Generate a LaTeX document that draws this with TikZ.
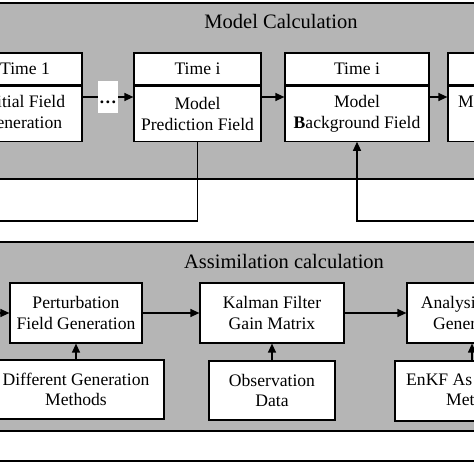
\documentclass[tikz,border=0pt]{standalone}
\usepackage{fontspec}
\setmainfont{Liberation Serif}
\usetikzlibrary{arrows.meta,positioning}
\definecolor{panelgray}{RGB}{181,181,181}

\begin{document}
\begin{tikzpicture}[x=1pt, y=1pt,
  every node/.style={font=\fontsize{17.6}{20.7}\selectfont},
  box/.style={draw, fill=white, line width=1.2pt, align=center, inner sep=0pt},
  frag/.style={inner sep=0pt},
  title/.style={font=\fontsize{20.5}{24}\selectfont},
  arr/.style={-{Triangle[length=9pt,width=8pt]}, line width=1.2pt},
  panel/.style={draw, fill=panelgray, line width=1.5pt}]

  \useasboundingbox (0,0) rectangle (474,474);
  \clip (0,0) rectangle (474,474);

  \def\headh{32}
  \def\bodyh{55}

  % model calculation panel
  \draw[panel] (-10,295) rectangle (484,471);
  \node[title] (mtitle) at (281,453) {Model Calculation};

  \foreach \n/\x/\w/\t/\b in {1/25/114/Time 1/{},
      2/197.5/127/Time i/{Model\\Prediction Field},
      3/357/144/Time i/{Model\\\textbf{B}ackground Field},
      4/520/144/{}/{}} {
    \node[box, minimum width=\w pt, minimum height=\headh pt] (h\n) at (\x,405) {\t};
    \node[box, minimum width=\w pt, minimum height=\bodyh pt, below=0pt of h\n] (b\n) {\b};
  }
  \node[frag, anchor=base east] (b1a) at (65.3,366) {itial Field};
  \node[frag, anchor=base east] (b1b) at (62.3,345) {eneration};
  \node[frag, anchor=base west] (b4a) at (458,366) {M};

  \node[fill=white, minimum width=20pt, minimum height=32pt, inner sep=0pt,
    text height=14pt, text depth=0pt] (dots) at (108,377) {\textbf{\textellipsis}};

  \draw[line width=1.2pt] (b1.east |- dots) -- (dots.west);
  \draw[arr] (dots.east) -- (b2.west |- dots);
  \draw[arr] (b2.east |- dots) -- (b3.west |- dots);
  \draw[arr] (b3.east |- dots) -- (b4.west |- dots);

  % feedback lines
  \coordinate (fbl) at (-10,253);
  \coordinate (fbr) at (484,253);
  \draw[line width=1.2pt] (b2.south) |- (fbl);
  \draw[arr] (fbr) -| (b3.south);

  % assimilation calculation panel
  \draw[panel] (-10,43) rectangle (484,232);
  \node[title] (atitle) at (284,213) {Assimilation calculation};

  \node[box, minimum width=132pt, minimum height=60pt] (pert) at (76,161) {Perturbation\\Field Generation};
  \node[box, minimum width=144pt, minimum height=60pt] (kal) at (272,161) {Kalman Filter\\Gain Matrix};
  \node[box, minimum width=130pt, minimum height=60pt] (ana) at (472,161) {};
  \node[frag, anchor=base west] (anaa) at (420.7,165) {Analysi};
  \node[frag, anchor=base west] (anab) at (433,144) {Gener};

  \node[box, minimum width=176pt, minimum height=59pt] (diff) at (76,84.5) {Different Generation\\Methods};
  \node[box, minimum width=126pt, minimum height=59pt] (obs) at (272,83.5) {Observation\\Data};
  \node[box, minimum width=158pt, minimum height=60pt] (enkf) at (474,83) {};
  \node[frag, anchor=base west] (enkfa) at (406,88) {EnKF As};
  \node[frag, anchor=base west] (enkfb) at (446,68) {Met};

  \coordinate (inl) at (-10,161);
  \draw[arr] (inl) -- (pert);
  \draw[arr] (pert) -- (kal);
  \draw[arr] (kal) -- (ana);
  \draw[arr] (diff) -- (pert);
  \draw[arr] (obs) -- (kal);
  \draw[arr] (ana.south |- enkf.north) -- (ana.south);

  \coordinate (bl) at (-10,13);
  \coordinate (br) at (484,13);
  \draw[line width=1.5pt] (bl) -- (br);
\end{tikzpicture}
\end{document}
